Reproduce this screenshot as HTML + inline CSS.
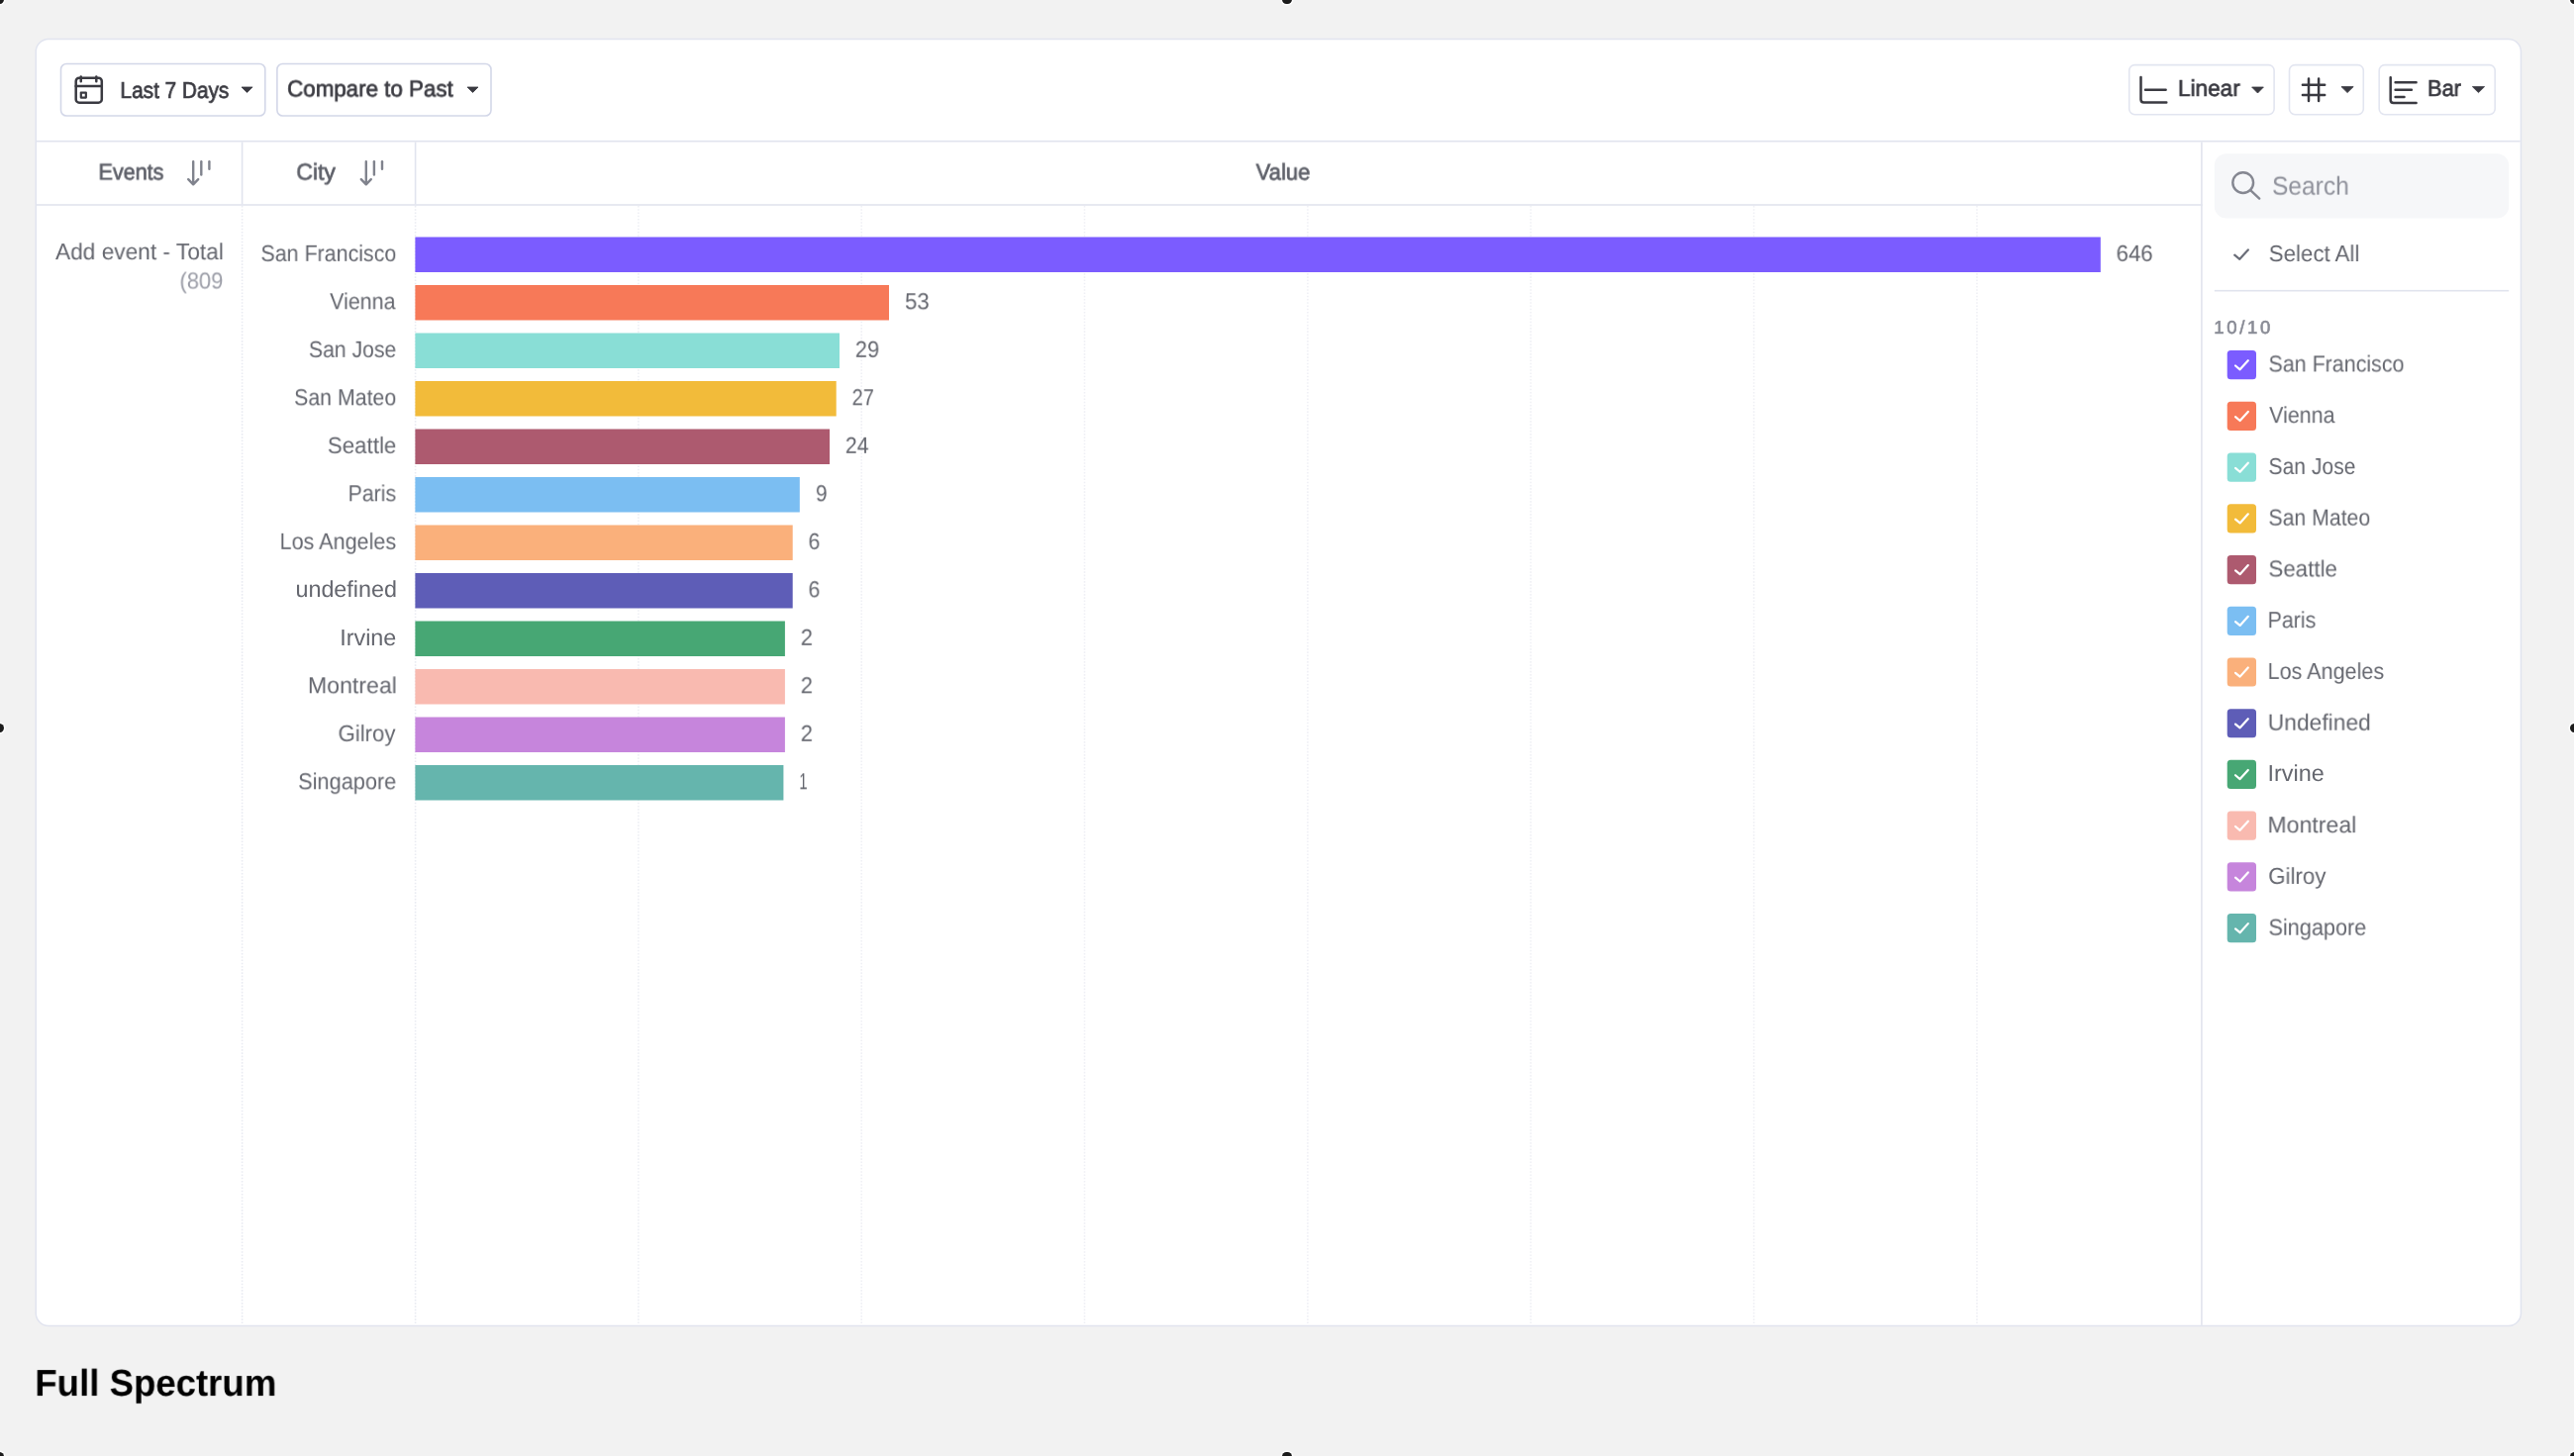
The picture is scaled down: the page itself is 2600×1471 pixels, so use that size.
<!DOCTYPE html>
<html lang="en"><head><meta charset="utf-8"><title>Full Spectrum</title>
<style>
html,body{margin:0;padding:0;}
body{width:2600px;height:1471px;overflow:hidden;background:#f2f2f2;position:relative;font-family:"Liberation Sans",sans-serif;text-rendering:geometricPrecision;}
.t{position:absolute;white-space:nowrap;line-height:1;display:block;transform-origin:0 0;will-change:transform;}
svg{position:absolute;left:0;top:0;overflow:visible;}
.dot{position:absolute;width:9.2px;height:9.2px;border-radius:50%;background:#1c1c1c;box-shadow:0 0 0 1.5px #fff;}
</style></head><body>
<div class="dot" style="left:-5.3px;top:-5.3px"></div>
<div class="dot" style="left:1295.4px;top:-5.3px"></div>
<div class="dot" style="left:2596.1px;top:-5.3px"></div>
<div class="dot" style="left:-5.3px;top:730.9px"></div>
<div class="dot" style="left:2596.1px;top:730.9px"></div>
<div class="dot" style="left:-5.3px;top:1467.1px"></div>
<div class="dot" style="left:1295.4px;top:1467.1px"></div>
<div class="dot" style="left:2596.1px;top:1467.1px"></div>
<svg width="2600" height="1471" viewBox="0 0 2600 1471">
<rect x="36.25" y="39.45" width="2510.20" height="1300.10" rx="12.75" fill="#fff" stroke="#e1e4ef" stroke-width="1.5"/>
<rect x="37.00" y="141.90" width="2508.70" height="1.60" fill="#e1e4ee"/>
<rect x="37.00" y="206.20" width="2187.70" height="1.60" fill="#e1e4ee"/>
<rect x="243.80" y="143.50" width="1.60" height="62.70" fill="#e1e4ee"/>
<path d="M244.60 208.00 V1338.80" stroke="#e9ebf2" stroke-width="1.6" stroke-dasharray="1.6 1.64" fill="none"/>
<rect x="418.80" y="143.50" width="1.60" height="62.70" fill="#e1e4ee"/>
<path d="M419.60 208.00 V1338.80" stroke="#e9ebf2" stroke-width="1.6" stroke-dasharray="1.6 1.64" fill="none"/>
<rect x="2223.10" y="143.50" width="1.60" height="1195.30" fill="#e1e4ee"/>
<path d="M644.85 208.00 V1338.80" stroke="#eff0f5" stroke-width="1.6" stroke-dasharray="1.6 1.64" fill="none"/>
<path d="M870.20 208.00 V1338.80" stroke="#eff0f5" stroke-width="1.6" stroke-dasharray="1.6 1.64" fill="none"/>
<path d="M1095.55 208.00 V1338.80" stroke="#eff0f5" stroke-width="1.6" stroke-dasharray="1.6 1.64" fill="none"/>
<path d="M1320.90 208.00 V1338.80" stroke="#eff0f5" stroke-width="1.6" stroke-dasharray="1.6 1.64" fill="none"/>
<path d="M1546.25 208.00 V1338.80" stroke="#eff0f5" stroke-width="1.6" stroke-dasharray="1.6 1.64" fill="none"/>
<path d="M1771.60 208.00 V1338.80" stroke="#eff0f5" stroke-width="1.6" stroke-dasharray="1.6 1.64" fill="none"/>
<path d="M1996.95 208.00 V1338.80" stroke="#eff0f5" stroke-width="1.6" stroke-dasharray="1.6 1.64" fill="none"/>
<rect x="61.50" y="64.50" width="206.30" height="52.50" rx="5.70" fill="#fff" stroke="#d3d7e8" stroke-width="1.6"/>
<rect x="279.90" y="64.50" width="216.10" height="52.50" rx="5.70" fill="#fff" stroke="#d3d7e8" stroke-width="1.6"/>
<rect x="2150.70" y="65.60" width="146.40" height="50.10" rx="5.70" fill="#fff" stroke="#e2e5f0" stroke-width="1.6"/>
<rect x="2312.50" y="65.60" width="74.80" height="50.10" rx="5.70" fill="#fff" stroke="#e2e5f0" stroke-width="1.6"/>
<rect x="2403.20" y="65.60" width="117.00" height="50.10" rx="5.70" fill="#fff" stroke="#e2e5f0" stroke-width="1.6"/>
<g fill="none" stroke="#3a3a41" stroke-width="2.5" stroke-linecap="round" stroke-linejoin="round"><rect x="76.7" y="78.7" width="26.1" height="25" rx="3.3"/><path d="M76.7 86.9 H102.8"/><path d="M81.75 77.4 V82.2 M97.3 77.4 V82.2"/><rect x="81.8" y="93.6" width="5.05" height="5" stroke-width="2.2"/></g>
<path d="M244 88 L255.1 88 L249.55 93.5 Z" fill="#3a3a41" stroke="#3a3a41" stroke-width="0.8" stroke-linejoin="round"/>
<path d="M472 88 L483 88 L477.5 93.5 Z" fill="#3a3a41" stroke="#3a3a41" stroke-width="0.8" stroke-linejoin="round"/>
<g fill="none" stroke="#3a3a41" stroke-width="2.5" stroke-linecap="round" stroke-linejoin="round"><path d="M2162.5 78 V100.6 Q2162.5 103.6 2165.5 103.6 H2188.3"/><path d="M2167 90.8 H2187.6"/></g>
<path d="M2274.6 88 L2286.4 88 L2280.5 94 Z" fill="#3a3a41" stroke="#3a3a41" stroke-width="0.8" stroke-linejoin="round"/>
<g fill="none" stroke="#3a3a41" stroke-width="2.5" stroke-linecap="round" stroke-linejoin="round"><path d="M2332 79.6 V102 M2342.1 79.6 V102 M2325.9 85.7 H2348.2 M2325.9 95.9 H2348.2"/></g>
<path d="M2365 87.6 L2377.2 87.6 L2371.1 93.6 Z" fill="#3a3a41" stroke="#3a3a41" stroke-width="0.8" stroke-linejoin="round"/>
<g fill="none" stroke="#3a3a41" stroke-width="2.5" stroke-linecap="round" stroke-linejoin="round"><path d="M2414.7 78.2 V100.9 Q2414.7 103.9 2417.7 103.9 H2440.6"/><path d="M2419.6 83.3 H2440.6 M2419.6 90.7 H2435.9 M2419.6 98 H2428.5"/></g>
<path d="M2497.4 87.6 L2509.6 87.6 L2503.5 93.6 Z" fill="#3a3a41" stroke="#3a3a41" stroke-width="0.8" stroke-linejoin="round"/>
<g fill="none" stroke="#80838d" stroke-width="2.4" stroke-linecap="round" stroke-linejoin="round"><path d="M195.2 163.3 V186 M190.2 181.2 L195.2 186.3 L200.2 181.2"/><path d="M203.3 163.3 V176.6"/><path d="M211.4 163.3 V170.7"/></g>
<g fill="none" stroke="#80838d" stroke-width="2.4" stroke-linecap="round" stroke-linejoin="round"><path d="M369.8 163.3 V186 M364.8 181.2 L369.8 186.3 L374.8 181.2"/><path d="M377.9 163.3 V176.6"/><path d="M386.0 163.3 V170.7"/></g>
<rect x="419.40" y="239.50" width="1702.40" height="35.50" fill="#7B5CFF"/>
<rect x="419.40" y="288.00" width="478.60" height="35.50" fill="#F77958"/>
<rect x="419.40" y="336.50" width="428.60" height="35.50" fill="#89DED6"/>
<rect x="419.40" y="385.00" width="425.30" height="35.50" fill="#F2BB3A"/>
<rect x="419.40" y="433.50" width="418.60" height="35.50" fill="#AD5A6F"/>
<rect x="419.40" y="482.00" width="388.40" height="35.50" fill="#7BBEF2"/>
<rect x="419.40" y="530.50" width="381.30" height="35.50" fill="#FAB07B"/>
<rect x="419.40" y="579.00" width="381.30" height="35.50" fill="#5E5DB7"/>
<rect x="419.40" y="627.50" width="373.50" height="35.50" fill="#47A774"/>
<rect x="419.40" y="676.00" width="373.50" height="35.50" fill="#F9BAB0"/>
<rect x="419.40" y="724.50" width="373.50" height="35.50" fill="#C685DC"/>
<rect x="419.40" y="773.00" width="372.00" height="35.50" fill="#65B5AD"/>
<rect x="2236.80" y="155.30" width="297.40" height="65.30" rx="12.00" fill="#f6f7f9"/>
<g fill="none" stroke="#858791" stroke-width="2.4" stroke-linecap="round"><circle cx="2265.7" cy="184.6" r="10.4"/><path d="M2273.4 192.4 L2282.2 200.6"/></g>
<path d="M2257.2 257.6 L2262.3 261.8 L2270.8 252.4" fill="none" stroke="#6a6d78" stroke-width="2.2" stroke-linecap="round" stroke-linejoin="round"/>
<rect x="2236.80" y="292.90" width="297.40" height="1.60" fill="#e1e4ee"/>
<rect x="2249.70" y="354.10" width="29.30" height="29.20" rx="3.50" fill="#7B5CFF"/>
<path transform="translate(2249.7 354.10)" d="M8.3 15.4 L12.9 19.2 L21.1 10.1" fill="none" stroke="#fff" stroke-width="2.2" stroke-linecap="round" stroke-linejoin="round"/>
<rect x="2249.70" y="405.82" width="29.30" height="29.20" rx="3.50" fill="#F77958"/>
<path transform="translate(2249.7 405.82)" d="M8.3 15.4 L12.9 19.2 L21.1 10.1" fill="none" stroke="#fff" stroke-width="2.2" stroke-linecap="round" stroke-linejoin="round"/>
<rect x="2249.70" y="457.54" width="29.30" height="29.20" rx="3.50" fill="#89DED6"/>
<path transform="translate(2249.7 457.54)" d="M8.3 15.4 L12.9 19.2 L21.1 10.1" fill="none" stroke="#fff" stroke-width="2.2" stroke-linecap="round" stroke-linejoin="round"/>
<rect x="2249.70" y="509.26" width="29.30" height="29.20" rx="3.50" fill="#F2BB3A"/>
<path transform="translate(2249.7 509.26)" d="M8.3 15.4 L12.9 19.2 L21.1 10.1" fill="none" stroke="#fff" stroke-width="2.2" stroke-linecap="round" stroke-linejoin="round"/>
<rect x="2249.70" y="560.98" width="29.30" height="29.20" rx="3.50" fill="#AD5A6F"/>
<path transform="translate(2249.7 560.98)" d="M8.3 15.4 L12.9 19.2 L21.1 10.1" fill="none" stroke="#fff" stroke-width="2.2" stroke-linecap="round" stroke-linejoin="round"/>
<rect x="2249.70" y="612.70" width="29.30" height="29.20" rx="3.50" fill="#7BBEF2"/>
<path transform="translate(2249.7 612.70)" d="M8.3 15.4 L12.9 19.2 L21.1 10.1" fill="none" stroke="#fff" stroke-width="2.2" stroke-linecap="round" stroke-linejoin="round"/>
<rect x="2249.70" y="664.42" width="29.30" height="29.20" rx="3.50" fill="#FAB07B"/>
<path transform="translate(2249.7 664.42)" d="M8.3 15.4 L12.9 19.2 L21.1 10.1" fill="none" stroke="#fff" stroke-width="2.2" stroke-linecap="round" stroke-linejoin="round"/>
<rect x="2249.70" y="716.14" width="29.30" height="29.20" rx="3.50" fill="#5E5DB7"/>
<path transform="translate(2249.7 716.14)" d="M8.3 15.4 L12.9 19.2 L21.1 10.1" fill="none" stroke="#fff" stroke-width="2.2" stroke-linecap="round" stroke-linejoin="round"/>
<rect x="2249.70" y="767.86" width="29.30" height="29.20" rx="3.50" fill="#47A774"/>
<path transform="translate(2249.7 767.86)" d="M8.3 15.4 L12.9 19.2 L21.1 10.1" fill="none" stroke="#fff" stroke-width="2.2" stroke-linecap="round" stroke-linejoin="round"/>
<rect x="2249.70" y="819.58" width="29.30" height="29.20" rx="3.50" fill="#F9BAB0"/>
<path transform="translate(2249.7 819.58)" d="M8.3 15.4 L12.9 19.2 L21.1 10.1" fill="none" stroke="#fff" stroke-width="2.2" stroke-linecap="round" stroke-linejoin="round"/>
<rect x="2249.70" y="871.30" width="29.30" height="29.20" rx="3.50" fill="#C685DC"/>
<path transform="translate(2249.7 871.30)" d="M8.3 15.4 L12.9 19.2 L21.1 10.1" fill="none" stroke="#fff" stroke-width="2.2" stroke-linecap="round" stroke-linejoin="round"/>
<rect x="2249.70" y="923.02" width="29.30" height="29.20" rx="3.50" fill="#65B5AD"/>
<path transform="translate(2249.7 923.02)" d="M8.3 15.4 L12.9 19.2 L21.1 10.1" fill="none" stroke="#fff" stroke-width="2.2" stroke-linecap="round" stroke-linejoin="round"/>
</svg>
<span class="t" style="left:121px;top:80px;font-size:23.2px;color:#3a3a41;transform:translate(0.45px,0.00px) scaleX(0.8979);-webkit-text-stroke:0.7px #3a3a41;">Last 7 Days</span>
<span class="t" style="left:290px;top:78px;font-size:23.2px;color:#3a3a41;transform:translate(0.08px,0.40px) scaleX(0.9637);-webkit-text-stroke:0.7px #3a3a41;">Compare to Past</span>
<span class="t" style="left:2199px;top:78px;font-size:23.2px;color:#3a3a41;transform:translate(0.94px,0.00px) scaleX(0.9746);-webkit-text-stroke:0.7px #3a3a41;">Linear</span>
<span class="t" style="left:2451px;top:78px;font-size:23.2px;color:#3a3a41;transform:translate(0.98px,0.00px) scaleX(0.9449);-webkit-text-stroke:0.7px #3a3a41;">Bar</span>
<span class="t" style="left:99px;top:162px;font-size:23.2px;color:#5e6069;transform:translate(0.50px,0.50px) scaleX(0.9304);-webkit-text-stroke:0.7px #5e6069;">Events</span>
<span class="t" style="left:299px;top:162px;font-size:23.2px;color:#5e6069;transform:translate(0.26px,0.50px) scaleX(0.9924);-webkit-text-stroke:0.7px #5e6069;">City</span>
<span class="t" style="left:1268px;top:162px;font-size:23.2px;color:#5e6069;transform:translate(0.64px,0.60px) scaleX(0.9502);-webkit-text-stroke:0.7px #5e6069;">Value</span>
<span class="t" style="left:56px;top:243px;font-size:23.2px;color:#65676f;transform:translate(0.00px,0.10px) scaleX(0.9785);">Add event - Total</span>
<span class="t" style="left:181px;top:272px;font-size:23.2px;color:#9a9ca6;transform:translate(0.48px,0.50px) scaleX(0.9463);">(809</span>
<span class="t" style="left:263px;top:244px;font-size:23.2px;color:#65676f;transform:translate(0.48px,0.80px) scaleX(0.9231);">San Francisco</span>
<span class="t" style="left:2137px;top:244px;font-size:23.2px;color:#65676f;transform:translate(0.60px,0.80px) scaleX(0.9589);">646</span>
<span class="t" style="left:333px;top:293px;font-size:23.2px;color:#65676f;transform:translate(0.17px,0.30px) scaleX(0.9231);">Vienna</span>
<span class="t" style="left:914px;top:293px;font-size:23.2px;color:#65676f;transform:translate(0.05px,0.30px) scaleX(0.9516);">53</span>
<span class="t" style="left:311px;top:341px;font-size:23.2px;color:#65676f;transform:translate(0.89px,0.80px) scaleX(0.9140);">San Jose</span>
<span class="t" style="left:863px;top:341px;font-size:23.2px;color:#65676f;transform:translate(0.82px,0.80px) scaleX(0.9404);">29</span>
<span class="t" style="left:297px;top:390px;font-size:23.2px;color:#65676f;transform:translate(0.08px,0.30px) scaleX(0.9197);">San Mateo</span>
<span class="t" style="left:860px;top:390px;font-size:23.2px;color:#65676f;transform:translate(0.63px,0.30px) scaleX(0.8596);">27</span>
<span class="t" style="left:330px;top:438px;font-size:23.2px;color:#65676f;transform:translate(0.84px,0.80px) scaleX(0.9623);">Seattle</span>
<span class="t" style="left:853px;top:438px;font-size:23.2px;color:#65676f;transform:translate(0.86px,0.80px) scaleX(0.9137);">24</span>
<span class="t" style="left:351px;top:487px;font-size:23.2px;color:#65676f;transform:translate(0.56px,0.30px) scaleX(0.9200);">Paris</span>
<span class="t" style="left:823px;top:487px;font-size:23.2px;color:#65676f;transform:translate(0.90px,0.30px) scaleX(0.9023);">9</span>
<span class="t" style="left:282px;top:535px;font-size:23.2px;color:#65676f;transform:translate(0.54px,0.80px) scaleX(0.9312);">Los Angeles</span>
<span class="t" style="left:816px;top:535px;font-size:23.2px;color:#65676f;transform:translate(0.57px,0.80px) scaleX(0.9023);">6</span>
<span class="t" style="left:298px;top:584px;font-size:23.2px;color:#65676f;transform:translate(0.39px,0.30px) scaleX(1.0076);">undefined</span>
<span class="t" style="left:816px;top:584px;font-size:23.2px;color:#65676f;transform:translate(0.57px,0.30px) scaleX(0.9023);">6</span>
<span class="t" style="left:343px;top:632px;font-size:23.2px;color:#65676f;transform:translate(0.18px,0.80px) scaleX(1.0084);">Irvine</span>
<span class="t" style="left:808px;top:632px;font-size:23.2px;color:#65676f;transform:translate(0.71px,0.80px) scaleX(0.9524);">2</span>
<span class="t" style="left:310px;top:681px;font-size:23.2px;color:#65676f;transform:translate(0.91px,0.30px) scaleX(0.9971);">Montreal</span>
<span class="t" style="left:808px;top:681px;font-size:23.2px;color:#65676f;transform:translate(0.71px,0.30px) scaleX(0.9524);">2</span>
<span class="t" style="left:341px;top:729px;font-size:23.2px;color:#65676f;transform:translate(0.50px,0.80px) scaleX(0.9570);">Gilroy</span>
<span class="t" style="left:808px;top:729px;font-size:23.2px;color:#65676f;transform:translate(0.71px,0.80px) scaleX(0.9524);">2</span>
<span class="t" style="left:301px;top:778px;font-size:23.2px;color:#65676f;transform:translate(0.16px,0.30px) scaleX(0.9378);">Singapore</span>
<span class="t" style="left:807px;top:778px;font-size:23.2px;color:#65676f;transform:translate(0.28px,0.30px) scaleX(0.6400);">1</span>
<span class="t" style="left:2295px;top:174px;font-size:26px;color:#8e909a;transform:translate(0.02px,0.60px) scaleX(0.9434);">Search</span>
<span class="t" style="left:2291px;top:245px;font-size:23.2px;color:#65676f;transform:translate(0.74px,0.00px) scaleX(0.9613);">Select All</span>
<span class="t" style="left:2236px;top:321px;font-size:18.5px;color:#8a8c96;transform:translate(0.30px,0.60px) scaleX(1.0000);letter-spacing:2.68px;-webkit-text-stroke:0.6px #8a8c96;">10/10</span>
<span class="t" style="left:2291px;top:356px;font-size:23.2px;color:#65676f;transform:translate(0.48px,0.40px) scaleX(0.9244);">San Francisco</span>
<span class="t" style="left:2292px;top:408px;font-size:23.2px;color:#65676f;transform:translate(0.17px,0.15px) scaleX(0.9231);">Vienna</span>
<span class="t" style="left:2291px;top:459px;font-size:23.2px;color:#65676f;transform:translate(0.49px,0.90px) scaleX(0.9098);">San Jose</span>
<span class="t" style="left:2291px;top:511px;font-size:23.2px;color:#65676f;transform:translate(0.48px,0.65px) scaleX(0.9161);">San Mateo</span>
<span class="t" style="left:2291px;top:563px;font-size:23.2px;color:#65676f;transform:translate(0.44px,0.40px) scaleX(0.9623);">Seattle</span>
<span class="t" style="left:2290px;top:615px;font-size:23.2px;color:#65676f;transform:translate(0.56px,0.15px) scaleX(0.9220);">Paris</span>
<span class="t" style="left:2290px;top:666px;font-size:23.2px;color:#65676f;transform:translate(0.54px,0.90px) scaleX(0.9312);">Los Angeles</span>
<span class="t" style="left:2290px;top:718px;font-size:23.2px;color:#65676f;transform:translate(0.68px,0.65px) scaleX(0.9854);">Undefined</span>
<span class="t" style="left:2290px;top:770px;font-size:23.2px;color:#65676f;transform:translate(0.38px,0.40px) scaleX(1.0121);">Irvine</span>
<span class="t" style="left:2290px;top:822px;font-size:23.2px;color:#65676f;transform:translate(0.41px,0.15px) scaleX(0.9971);">Montreal</span>
<span class="t" style="left:2291px;top:873px;font-size:23.2px;color:#65676f;transform:translate(0.20px,0.90px) scaleX(0.9620);">Gilroy</span>
<span class="t" style="left:2291px;top:925px;font-size:23.2px;color:#65676f;transform:translate(0.47px,0.65px) scaleX(0.9349);">Singapore</span>
<span class="t" style="left:35px;top:1380px;font-size:37.8px;color:#000;transform:translate(0.28px,0.10px) scaleX(0.9683);font-weight:700;">Full Spectrum</span>
</body></html>
